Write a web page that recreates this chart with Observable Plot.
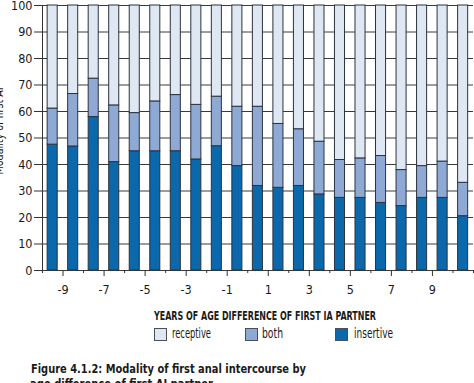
<!DOCTYPE html>
<html><head><meta charset="utf-8">
<script src="https://cdn.jsdelivr.net/npm/d3@7"></script>
<script src="https://cdn.jsdelivr.net/npm/@observablehq/plot@0.6"></script>
<style>
body{margin:0;background:#fff;}
#wrap{position:relative;width:474px;height:383px;overflow:hidden;background:#fff;font-family:"Liberation Sans Narrow","DejaVu Sans Condensed",sans-serif;color:#1a1a1a;}
#wrap svg{position:absolute;left:0;top:0;overflow:visible;}
.abs{position:absolute;white-space:nowrap;}
.sw{position:absolute;width:13px;height:13px;box-sizing:border-box;border:1px solid #4a4f58;}
</style></head><body><div id="wrap"></div>
<script>
// age difference categories (each bar sits in the interval starting at this value)
const ageDiff = [-10,-9,-8,-7,-6,-5,-4,-3,-2,-1,0,1,2,3,4,5,6,7,8,9,10];
const insertive = [47.5,46.8,57.9,40.9,45.0,45.0,45.0,41.9,46.9,39.4,31.9,31.2,31.9,28.7,27.4,27.4,25.5,24.3,27.4,27.4,20.5];
const both      = [13.6,19.8,14.5,21.4,14.4,18.8,21.2,20.6,18.7,22.4,29.9,24.1,21.4,19.9,14.3,14.9,17.7,13.6,12.0,13.7,12.6];
const receptive = [38.9,33.4,27.6,37.7,40.6,36.2,33.8,37.5,34.4,38.2,38.2,44.7,46.7,51.4,58.3,57.7,56.8,62.1,60.6,58.9,66.9];
const series = ["insertive","both","receptive"];
const seriesColors = ["#0b68ab","#8eaad4","#dfe7f2"];
const legendOrder = ["receptive","both","insertive"];
const yTicks = [0,10,20,30,40,50,60,70,80,90,100];
const xLabelTicks = [-9,-7,-5,-3,-1,1,3,5,7,9];
const xMinorTicks = [-10,-8,-6,-4,-2,0,2,4,6,8,10,11];
const yTitle = "Modality of first AI";
const xTitle = "YEARS OF AGE DIFFERENCE OF FIRST IA PARTNER";
const captionLines = ["Figure 4.1.2: Modality of first anal intercourse by","age difference of first AI partner"];

const values = {insertive, both, receptive};
const rows = [];
ageDiff.forEach((a, i) => series.forEach(s => rows.push({age: a, modality: s, pct: values[s][i]})));

const font = '"Liberation Sans Narrow","DejaVu Sans Condensed",sans-serif';
const chart = Plot.plot({
  width: 474, height: 322,
  marginLeft: 42, marginRight: 1, marginTop: 5, marginBottom: 52,
  style: {fontFamily: font, fontSize: "12.5px", color: "#1a1a1a", background: "transparent", overflow: "visible"},
  x: {type: "linear", domain: [-10, 11]},
  y: {domain: [0, 100]},
  color: {domain: series, range: seriesColors},
  marks: [
    Plot.ruleY(yTicks, {stroke: "#3a3a3a", strokeWidth: 1}),
    Plot.rectY(rows, Plot.stackY({
      x1: d => d.age + 0.25, x2: d => d.age + 0.74,
      y: "pct", fill: "modality", order: series,
      stroke: "#2b3340", strokeWidth: 1
    })),
    Plot.ruleX([-10], {stroke: "#333", strokeWidth: 1}),
    Plot.axisY({ticks: yTicks, tickSize: 8, tickPadding: 2, label: null, stroke: "#333", fontSize: 12.5, tickFormat: d => String(d)}),
    Plot.axisX({ticks: xMinorTicks, tickSize: 3, tickFormat: () => "", label: null, stroke: "#333"}),
    Plot.axisX({ticks: xLabelTicks, tickSize: 6, tickPadding: 9, label: null, stroke: "#333", fontSize: 12.5, tickFormat: d => String(d)})
  ]
});
const wrap = document.getElementById("wrap");
wrap.appendChild(chart);

function addText(text, {left, baseline, size, weight = "normal", width = null}) {
  const el = document.createElement("div");
  el.className = "abs";
  el.textContent = text;
  el.style.fontSize = size + "px";
  el.style.lineHeight = size + "px";
  el.style.fontWeight = weight;
  el.style.display = "inline-block";
  el.style.top = (baseline - 0.8465 * size) + "px";
  el.style.left = left + "px";
  wrap.appendChild(el);
  if (width) {
    const w = el.getBoundingClientRect().width;
    el.style.transformOrigin = "0 0";
    el.style.transform = `scaleX(${width / w})`;
  }
  return el;
}

// x axis title
addText(xTitle, {left: 154, baseline: 320.7, size: 12.5, weight: "bold", width: 222});

// legend
const swX = {receptive: 154, both: 245, insertive: 335};
const txX = {receptive: 172, both: 262, insertive: 354};
const txW = {receptive: 39, both: 21, insertive: 39};
legendOrder.forEach(s => {
  const sw = document.createElement("div");
  sw.className = "sw";
  sw.style.left = swX[s] + "px";
  sw.style.top = "328px";
  sw.style.background = seriesColors[series.indexOf(s)];
  wrap.appendChild(sw);
  addText(s, {left: txX[s], baseline: 338.3, size: 13.5, width: txW[s]});
});

// caption
addText(captionLines[0], {left: 31, baseline: 372.7, size: 13, weight: "bold", width: 275});
addText(captionLines[1], {left: 30, baseline: 388.3, size: 13, weight: "bold", width: 183});

// y title (rotated)
const yt = document.createElement("div");
yt.className = "abs";
yt.textContent = yTitle;
yt.style.fontSize = "13px";
yt.style.lineHeight = "14px";
yt.style.display = "inline-block";
wrap.appendChild(yt);
const yw = yt.getBoundingClientRect().width;
const sx = 87 / yw;
yt.style.left = (-1 - yw / 2) + "px";
yt.style.top = (131 - 7) + "px";
yt.style.transformOrigin = "50% 50%";
yt.style.transform = `rotate(-90deg) scaleX(${sx})`;
</script></body></html>
